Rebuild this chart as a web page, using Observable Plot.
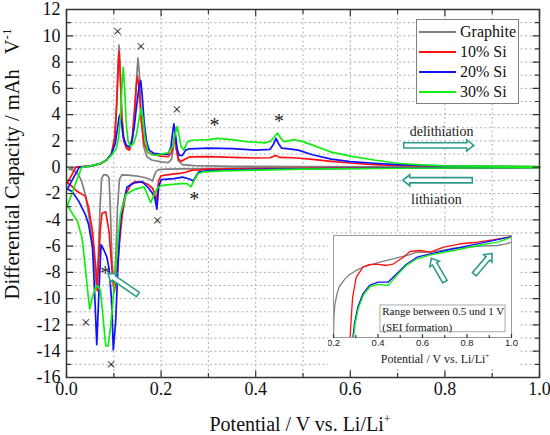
<!DOCTYPE html>
<html><head><meta charset="utf-8">
<script src="https://cdn.jsdelivr.net/npm/d3@7"></script>
<script src="https://cdn.jsdelivr.net/npm/@observablehq/plot@0.6"></script>
<style>
body{margin:0;background:#fff;}
#wrap{position:relative;width:550px;height:435px;font-family:'Liberation Serif','Times New Roman',serif;overflow:hidden;}
#wrap svg{position:absolute;left:0;top:0;}
#inset{position:absolute;left:328px;top:234px;}
#inset svg{position:static;}
#legend{position:absolute;left:416px;top:19px;width:103px;height:85px;border:1px solid #808080;background:#fff;box-sizing:border-box;}
.lrow{position:absolute;left:0;width:100px;height:20px;}
.lsw{position:absolute;left:2px;top:9px;width:37px;height:2px;}
.ltx{position:absolute;left:43px;top:0;line-height:20px;font-size:16px;color:#111;white-space:nowrap;font-family:'Liberation Serif','Times New Roman',serif;}
</style></head>
<body><div id="wrap"></div>
<script>
// ---------- data ----------
const seriesNames = ["Graphite", "10% Si", "20% Si", "30% Si"];
const seriesColors = ["#808080", "#ff1111", "#1111ff", "#11ee11"];

// lithiation branches (negative), potential descending
const graphiteLith = [[1.0,-0.02],[0.6,-0.04],[0.4,-0.06],[0.3,-0.1],[0.25,-0.12],[0.21,-0.15],[0.195,-0.18],[0.19,-0.3],[0.186,-0.6],[0.182,-1.05],[0.175,-0.9],[0.165,-0.78],[0.15,-0.68],[0.13,-0.6],[0.117,-0.58],[0.112,-0.9],[0.108,-3],[0.104,-7],[0.1,-9.3],[0.096,-7],[0.093,-3.5],[0.09,-0.8],[0.085,-0.58],[0.078,-0.58],[0.074,-0.9],[0.071,-3],[0.067,-7],[0.063,-9.0],[0.059,-7.5],[0.054,-5.6],[0.047,-3.6],[0.04,-2.1],[0.031,-0.96],[0.023,-0.45],[0.012,-0.2],[0.005,-0.15]];
const si10Lith = [[1.0,-0.02],[0.7,-0.05],[0.5,-0.08],[0.4,-0.1],[0.3,-0.15],[0.28,-0.2],[0.266,-0.22],[0.25,-0.4],[0.242,-0.45],[0.22,-0.55],[0.2,-0.65],[0.195,-1.0],[0.19,-2.6],[0.186,-2.0],[0.182,-1.6],[0.172,-1.3],[0.16,-1.15],[0.145,-1.1],[0.136,-1.3],[0.125,-2.1],[0.118,-3.6],[0.111,-6.1],[0.105,-8.5],[0.101,-9.5],[0.097,-8.2],[0.09,-4.9],[0.083,-3.4],[0.075,-3.5],[0.072,-4.5],[0.068,-7],[0.065,-9.4],[0.062,-7.7],[0.055,-4.9],[0.047,-3.1],[0.04,-2.2],[0.023,-1.85],[0.01,-1.4],[0.002,-1.2]];
const si20Lith = [[1.0,-0.02],[0.7,-0.06],[0.5,-0.12],[0.4,-0.17],[0.3,-0.25],[0.28,-0.35],[0.275,-0.6],[0.268,-1.05],[0.26,-0.9],[0.245,-0.75],[0.227,-0.87],[0.2,-0.95],[0.195,-1.5],[0.191,-3.2],[0.187,-2.4],[0.182,-2.0],[0.174,-1.6],[0.16,-1.1],[0.143,-1.2],[0.128,-1.5],[0.121,-2.6],[0.114,-4.1],[0.109,-7.4],[0.104,-11.7],[0.099,-13.9],[0.095,-10],[0.09,-7.7],[0.085,-6.8],[0.079,-6.3],[0.073,-5.9],[0.068,-10],[0.064,-13.5],[0.06,-10],[0.055,-6.1],[0.047,-4.4],[0.04,-3.6],[0.026,-2.6],[0.012,-1.85],[0.002,-1.65]];
const si30Lith = [[1.0,-0.03],[0.7,-0.08],[0.5,-0.15],[0.4,-0.22],[0.33,-0.28],[0.29,-0.35],[0.278,-0.5],[0.27,-1.0],[0.263,-1.5],[0.255,-1.25],[0.242,-1.25],[0.213,-1.35],[0.2,-1.4],[0.192,-1.6],[0.185,-2.1],[0.178,-2.7],[0.17,-2.0],[0.164,-1.5],[0.143,-1.7],[0.125,-2.1],[0.114,-3.6],[0.107,-6.1],[0.1,-9.4],[0.093,-12.2],[0.088,-13.6],[0.083,-13.6],[0.078,-11.7],[0.072,-9.4],[0.066,-9.0],[0.061,-9.2],[0.054,-10],[0.049,-10.8],[0.045,-9.5],[0.04,-7.7],[0.033,-5.4],[0.023,-4.1],[0.012,-3.5],[0.002,-2.9]];

// delithiation branches (positive), potential ascending
const graphiteDelith = [[0.018,0],[0.05,0.08],[0.07,0.25],[0.085,0.55],[0.095,1.0],[0.102,2.2],[0.106,4.5],[0.109,7.5],[0.111,9.3],[0.113,8],[0.117,4],[0.121,2.2],[0.127,1.5],[0.134,1.4],[0.14,2.2],[0.145,4.5],[0.149,7.2],[0.151,8.3],[0.154,7.2],[0.158,4],[0.163,1.6],[0.17,0.8],[0.18,0.55],[0.2,0.4],[0.215,0.35],[0.222,0.6],[0.226,1.5],[0.229,2.7],[0.232,1.5],[0.236,0.5],[0.245,0.2],[0.27,0.12],[0.35,0.07],[0.5,0.05],[0.7,0.03],[1.0,0.02]];
const si10Delith = [[0.02,0],[0.05,0.08],[0.07,0.25],[0.085,0.55],[0.095,1.0],[0.102,2.3],[0.106,4.8],[0.109,7.5],[0.111,8.8],[0.113,7.5],[0.117,3.8],[0.121,2.0],[0.127,1.4],[0.133,1.3],[0.139,2.2],[0.144,4.5],[0.148,6.4],[0.15,6.9],[0.153,6.2],[0.158,3.5],[0.164,1.8],[0.172,1.15],[0.185,0.95],[0.2,0.85],[0.215,0.8],[0.222,1.1],[0.226,1.8],[0.229,2.3],[0.232,1.4],[0.237,0.6],[0.243,0.45],[0.25,0.6],[0.26,0.78],[0.3,0.8],[0.35,0.75],[0.4,0.7],[0.43,0.72],[0.443,0.9],[0.45,0.75],[0.48,0.72],[0.52,0.6],[0.56,0.45],[0.6,0.32],[0.65,0.2],[0.7,0.13],[0.8,0.07],[1.0,0.03]];
const si20Delith = [[0.027,0],[0.05,0.08],[0.07,0.25],[0.085,0.55],[0.095,1.0],[0.103,1.8],[0.108,3.0],[0.111,3.8],[0.113,4.0],[0.116,3.4],[0.12,2.3],[0.126,1.7],[0.131,1.55],[0.137,1.8],[0.143,3.0],[0.148,4.6],[0.153,6.0],[0.157,6.6],[0.16,5.5],[0.164,3.5],[0.169,2.0],[0.175,1.3],[0.185,1.05],[0.2,1.0],[0.215,1.0],[0.221,1.6],[0.225,2.8],[0.227,3.3],[0.23,2.6],[0.234,1.4],[0.238,0.9],[0.245,0.9],[0.252,1.3],[0.26,1.4],[0.3,1.45],[0.35,1.42],[0.4,1.3],[0.43,1.35],[0.437,1.7],[0.443,2.2],[0.448,1.8],[0.455,1.45],[0.47,1.4],[0.49,1.3],[0.52,0.95],[0.56,0.62],[0.6,0.42],[0.65,0.3],[0.7,0.2],[0.8,0.08],[1.0,0.03]];
const si30Delith = [[0.032,0],[0.05,0.08],[0.07,0.25],[0.085,0.55],[0.095,0.9],[0.105,1.4],[0.11,2.2],[0.114,3.8],[0.117,6.0],[0.12,7.6],[0.123,6.0],[0.126,3.5],[0.13,2.0],[0.135,1.6],[0.142,1.8],[0.148,2.5],[0.153,3.6],[0.158,4.5],[0.162,3.6],[0.166,2.2],[0.172,1.2],[0.18,0.95],[0.19,0.9],[0.2,1.0],[0.215,1.1],[0.225,1.6],[0.23,2.6],[0.234,3.1],[0.238,2.4],[0.242,1.6],[0.248,1.3],[0.255,1.9],[0.265,2.05],[0.3,2.1],[0.32,2.2],[0.35,2.1],[0.38,1.95],[0.42,1.85],[0.432,2.0],[0.446,2.6],[0.453,2.2],[0.46,1.95],[0.47,2.0],[0.48,2.1],[0.5,1.95],[0.53,1.55],[0.56,1.15],[0.6,0.85],[0.65,0.55],[0.7,0.3],[0.75,0.18],[0.8,0.1],[1.0,0.04]];

// inset (0.2 - 1.0 V, lithiation detail, arbitrary vertical units)
const insetGraphite = [[0.2,0],[0.202,20],[0.206,32],[0.215,42],[0.226,50],[0.25,57],[0.271,61.5],[0.3,65.5],[0.332,68.9],[0.37,71.5],[0.408,73.8],[0.45,76],[0.499,78.7],[0.54,81],[0.575,83.6],[0.635,83.8],[0.7,86],[0.741,87.5],[0.8,88.5],[0.862,89.5],[0.938,90.2],[0.97,91.5],[1.0,93.4]];
const insetSi10 = [[0.274,-2],[0.28,20],[0.286,39.5],[0.302,59],[0.332,69],[0.36,71.5],[0.393,72],[0.438,70.6],[0.468,72],[0.514,78.7],[0.544,84.3],[0.59,85.3],[0.635,83.6],[0.695,88.5],[0.771,91.9],[0.847,93.4],[0.923,96],[1.0,99]];
const insetSi20 = [[0.286,-2],[0.294,13.4],[0.309,29.7],[0.332,42.8],[0.362,51],[0.4,54.2],[0.445,54.2],[0.484,62.5],[0.529,72],[0.575,78.7],[0.635,82],[0.741,87],[0.847,91.9],[0.938,96],[1.0,99]];
const insetSi30 = [[0.289,-2],[0.297,13],[0.312,29],[0.335,42],[0.365,50],[0.4,52],[0.445,51],[0.484,60.8],[0.529,71],[0.575,77.2],[0.635,81],[0.741,85.3],[0.847,90.2],[0.938,93.4],[1.0,98.3]];

// tick values
const xMajor = [0, 0.2, 0.4, 0.6, 0.8, 1.0];
const xMinor = [0.1, 0.3, 0.5, 0.7, 0.9];
const yMajor = [-16,-14,-12,-10,-8,-6,-4,-2,0,2,4,6,8,10,12];
const yMinor = [-15,-13,-11,-9,-7,-5,-3,-1,1,3,5,7,9,11];
const xGrid = [0.1,0.2,0.3,0.4,0.5,0.6,0.7,0.8,0.9];
const yGrid = [-15,-14,-13,-12,-11,-10,-9,-8,-7,-6,-5,-4,-3,-2,-1,0,1,2,3,4,5,6,7,8,9,10,11];
const insetTicks = [0.2, 0.4, 0.6, 0.8, 1.0];
const insetMinor = [0.3, 0.5, 0.7, 0.9];

// annotations
const crossMarks = [[0.108,10.36],[0.157,9.19],[0.233,4.36],[0.192,-4.05],[0.041,-11.85],[0.094,-15.0]];
const starMarks = [[0.313,3.42],[0.449,3.67],[0.27,-2.22],[0.082,-7.87]];
const textNotes = [{x:0.793, y:2.71, text:"delithiation"}, {x:0.782, y:-2.45, text:"lithiation"}];
const mainArrows = [{x1:0.714,y1:1.62,x2:0.862,y2:1.62},{x1:0.859,y1:-1.03,x2:0.712,y2:-1.03},{x1:0.152,y1:-9.73,x2:0.089,y2:-8.16}];
const insetArrows = [{x1:0.703,y1:54.2,x2:0.642,y2:77.2},{x1:0.835,y1:61.5,x2:0.915,y2:81.9}];
const insetNote = ["Range between 0.5 und 1 V", "(SEI formation)"];

// ---------- build ----------
const TEAL = "#2f9c8b";
const SERIF = "'Liberation Serif', 'Times New Roman', serif";
const SANS = "'Liberation Sans', Arial, sans-serif";
const lithSets = [graphiteLith, si10Lith, si20Lith, si30Lith];
const delithSets = [graphiteDelith, si10Delith, si20Delith, si30Delith];
const mainRows = [];
seriesNames.forEach((s, k) => {
  [...lithSets[k], ...delithSets[k]].forEach(([x, y]) => mainRows.push({series: s, x, y}));
});
const insetSets = [insetGraphite, insetSi10, insetSi20, insetSi30];
const insetRows = [];
seriesNames.forEach((s, k) => insetSets[k].forEach(([x, y]) => insetRows.push({series: s, x, y})));

const tickShape = {draw(ctx, l) { ctx.moveTo(0, 0); ctx.lineTo(0, -l); }};
function ticks(data, axis, anchor, len) {
  const rot = {bottom: 0, top: 180, left: 90, right: -90}[anchor];
  const o = {frameAnchor: anchor, rotate: rot, length: len, anchor: "start", shape: tickShape, stroke: "#333", strokeWidth: 1.2};
  o[axis] = d => d;
  return Plot.vector(data, o);
}
function hollowArrows(data, sw, hw, hl) {
  return (index, scales) => {
    const g = d3.create("svg:g");
    for (const a of data) {
      const tx = scales.x(a.x1), ty = scales.y(a.y1), hx = scales.x(a.x2), hy = scales.y(a.y2);
      const L = Math.hypot(hx - tx, hy - ty), ux = (hx - tx) / L, uy = (hy - ty) / L, nx = -uy, ny = ux;
      const bx = hx - ux * hl, by = hy - uy * hl;
      const pts = [[tx + nx*sw, ty + ny*sw],[bx + nx*sw, by + ny*sw],[bx + nx*hw, by + ny*hw],[hx, hy],[bx - nx*hw, by - ny*hw],[bx - nx*sw, by - ny*sw],[tx - nx*sw, ty - ny*sw]];
      g.append("path").attr("d", "M" + pts.map(p => p.join(",")).join("L") + "Z")
        .attr("fill", "white").attr("stroke", TEAL).attr("stroke-width", 1.6);
    }
    return g.node();
  };
}

const main = Plot.plot({
  width: 550, height: 435, marginLeft: 66, marginRight: 11, marginTop: 9, marginBottom: 58,
  x: {domain: [0, 1]}, y: {domain: [-16, 12]},
  color: {domain: seriesNames, range: seriesColors},
  style: {fontFamily: SERIF, background: "white", color: "#111"},
  marks: [
    Plot.gridX(xGrid, {stroke: "#b0b0b0", strokeOpacity: 1, strokeDasharray: "2,2.5"}),
    Plot.gridY(yGrid, {stroke: "#b0b0b0", strokeOpacity: 1, strokeDasharray: "2,2.5"}),
    Plot.line(mainRows, {x: "x", y: "y", z: "series", stroke: "series", strokeWidth: 1.7}),
    hollowArrows(mainArrows, 2.6, 5.5, 7),
    Plot.text(crossMarks, {x: d => d[0], y: d => d[1], text: () => "×", fontSize: 17, fill: "#222", fontFamily: SERIF}),
    Plot.text(starMarks, {x: d => d[0], y: d => d[1], text: () => "*", fontSize: 20, fill: "#222", dy: 3, fontFamily: SERIF}),
    Plot.text(textNotes, {x: "x", y: "y", text: "text", fontSize: 14, fill: "#222", fontFamily: SERIF}),
    Plot.frame({stroke: "#333", strokeWidth: 1.5}),
    ticks(xMajor, "x", "bottom", 6.5), ticks(xMinor, "x", "bottom", 4),
    ticks(xMajor, "x", "top", 6.5), ticks(xMinor, "x", "top", 4),
    ticks(yMajor, "y", "left", 6.5), ticks(yMinor, "y", "left", 4),
    ticks(yMajor, "y", "right", 6.5), ticks(yMinor, "y", "right", 4),
    Plot.axisX({ticks: xMajor, tickSize: 0, tickPadding: 5, tickFormat: d3.format(".1f"), fontSize: 18, fontFamily: SERIF, label: null}),
    Plot.axisY({ticks: yMajor, tickSize: 0, tickPadding: 6, tickFormat: d => String(d), fontSize: 18, fontFamily: SERIF, label: null})
  ]
});
const wrap = document.getElementById("wrap");
wrap.appendChild(main);
const msvg = d3.select(main);
const yt = msvg.append("text").attr("transform", "translate(19,164) rotate(-90)")
  .attr("text-anchor", "middle").attr("font-size", 20.5).attr("fill", "#111").attr("font-family", SERIF);
yt.append("tspan").text("Differential Capacity / mAh\u00a0\u00a0 V");
yt.append("tspan").attr("dy", -8).attr("font-size", 13).text("-1");
const xt = msvg.append("text").attr("x", 300).attr("y", 431)
  .attr("text-anchor", "middle").attr("font-size", 20).attr("fill", "#111").attr("font-family", SERIF);
xt.append("tspan").text("Potential / V vs. Li/Li");
xt.append("tspan").attr("dy", -8).attr("font-size", 12).text("+");

// legend
const leg = document.createElement("div");
leg.id = "legend";
seriesNames.forEach((s, k) => {
  const r = document.createElement("div");
  r.className = "lrow"; r.style.top = (2 + 20 * k) + "px";
  r.innerHTML = `<div class="lsw" style="background:${seriesColors[k]}"></div><div class="ltx">${s}</div>`;
  leg.appendChild(r);
});
wrap.appendChild(leg);

// inset
const inset = Plot.plot({
  width: 191, height: 134, marginLeft: 5, marginRight: 8, marginTop: 1, marginBottom: 31,
  x: {domain: [0.2, 1.0]}, y: {domain: [0, 100]},
  color: {domain: seriesNames, range: seriesColors},
  style: {fontFamily: SERIF, background: "white", color: "#222"},
  marks: [
    Plot.line(insetRows, {x: "x", y: "y", z: "series", stroke: "series", strokeWidth: 1.3, clip: true}),
    hollowArrows(insetArrows, 2.5, 5.5, 6.5),
    Plot.rect([insetNote], {x1: () => 0.411, x2: () => 0.973, y1: () => 5.2, y2: () => 31.4, fill: "white", stroke: "#aaa"}),
    Plot.text(insetNote, {x: () => 0.419, y: (d, i) => [25.5, 10.1][i], text: d => d, textAnchor: "start", fontSize: 11, fill: "#111", fontFamily: SERIF}),
    Plot.frame({stroke: "#999", strokeWidth: 1}),
    ticks(insetTicks, "x", "bottom", 3), ticks(insetMinor, "x", "bottom", 2),
    Plot.axisX({ticks: insetTicks, tickSize: 0, tickPadding: 2, tickFormat: d3.format(".1f"), fontSize: 9.5, fontFamily: SANS, label: null}),
    Plot.axisY({ticks: [], label: null})
  ]
});
const idiv = document.createElement("div");
idiv.id = "inset";
idiv.appendChild(inset);
wrap.appendChild(idiv);
const isvg = d3.select(inset);
const it = isvg.append("text").attr("x", 107).attr("y", 129).attr("text-anchor", "middle")
  .attr("font-size", 12).attr("fill", "#222").attr("font-family", SERIF);
it.append("tspan").text("Potential / V vs. Li/Li");
it.append("tspan").attr("dy", -5).attr("font-size", 7).text("+");
</script></body></html>
